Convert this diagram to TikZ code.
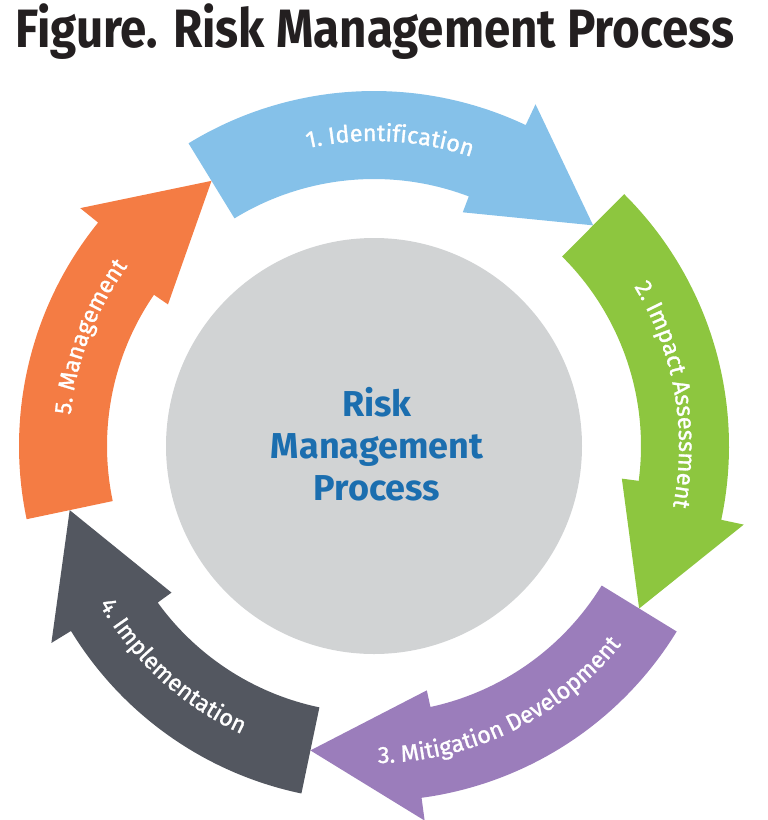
\documentclass[tikz,border=0pt]{standalone}
\usepackage{fontspec}
\usepackage{graphicx}
\setmainfont{Fira Sans}
\newfontfamily\labelfam{Fira Sans}[FakeBold=1.2]
\usetikzlibrary{decorations.text}
\definecolor{titleblack}{HTML}{231F20}
\definecolor{hubgray}{HTML}{D1D3D4}
\definecolor{hubblue}{HTML}{1B6EAF}
\definecolor{idblue}{HTML}{85C1E9}
\definecolor{impgreen}{HTML}{8DC63F}
\definecolor{mitpurple}{HTML}{9B7DBB}
\definecolor{impgray}{HTML}{535760}
\definecolor{mgtorange}{HTML}{F47C44}
\newcommand{\labelfont}{\labelfam\fontsize{23.5}{24}\selectfont\color{white}}
% tail angle, tip angle, colour
\newcommand{\ringarrow}[3]{%
  \fill[#3] (#1:355) arc[start angle=#1, end angle={#2+19.5}, radius=355]
    -- ({#2+19.5}:378) -- (#2:311) -- ({#2+24}:250) -- ({#2+24}:267)
    arc[start angle={#2+24}, end angle=#1, radius=267] -- cycle;}
\tikzset{
  arclabel/.style={decorate, decoration={text along path, text align=center,
    text={|\labelfont|#1}}}
}
\begin{document}
\begin{tikzpicture}[x=1pt, y=1pt]
\useasboundingbox (0,0) rectangle (768,-820);
\node[anchor=base west, inner sep=0, text=titleblack] (title) at (15,-47)
  {\scalebox{0.88}[1]{\fontsize{54}{54}\selectfont\bfseries Figure. Risk Management Process}};
\begin{scope}[shift={(374,-446)}]
\fill[hubgray] (0,0) circle[radius=208];
% the five arrows, clockwise
\ringarrow{121.5}{45.2}{idblue}
\ringarrow{45.2}{-31.5}{impgreen}
\ringarrow{-31.5}{-101.8}{mitpurple}
\ringarrow{-101.8}{-168.1}{impgray}
\ringarrow{191.9}{121.5}{mgtorange}
% labels along the arrows
\path[arclabel={1. Identification}] (127:305) arc[start angle=127, end angle=47, radius=305];
\path[arclabel={2. Impact Assessment}] (50:305) arc[start angle=50, end angle=-30, radius=305];
\path[arclabel={3. Mitigation Development}] (-109:317) arc[start angle=-109, end angle=-19, radius=317];
\path[arclabel={4. Implementation}] (187.6:317) arc[start angle=187.6, end angle=267.6, radius=317];
\path[arclabel={5. Management}] (199:305) arc[start angle=199, end angle=119, radius=305];
\node[text=hubblue, align=center, font=\fontsize{36}{42}\selectfont\bfseries] (hub) at (3,2)
  {Risk\\Management\\Process};
\end{scope}
\end{tikzpicture}
\end{document}
